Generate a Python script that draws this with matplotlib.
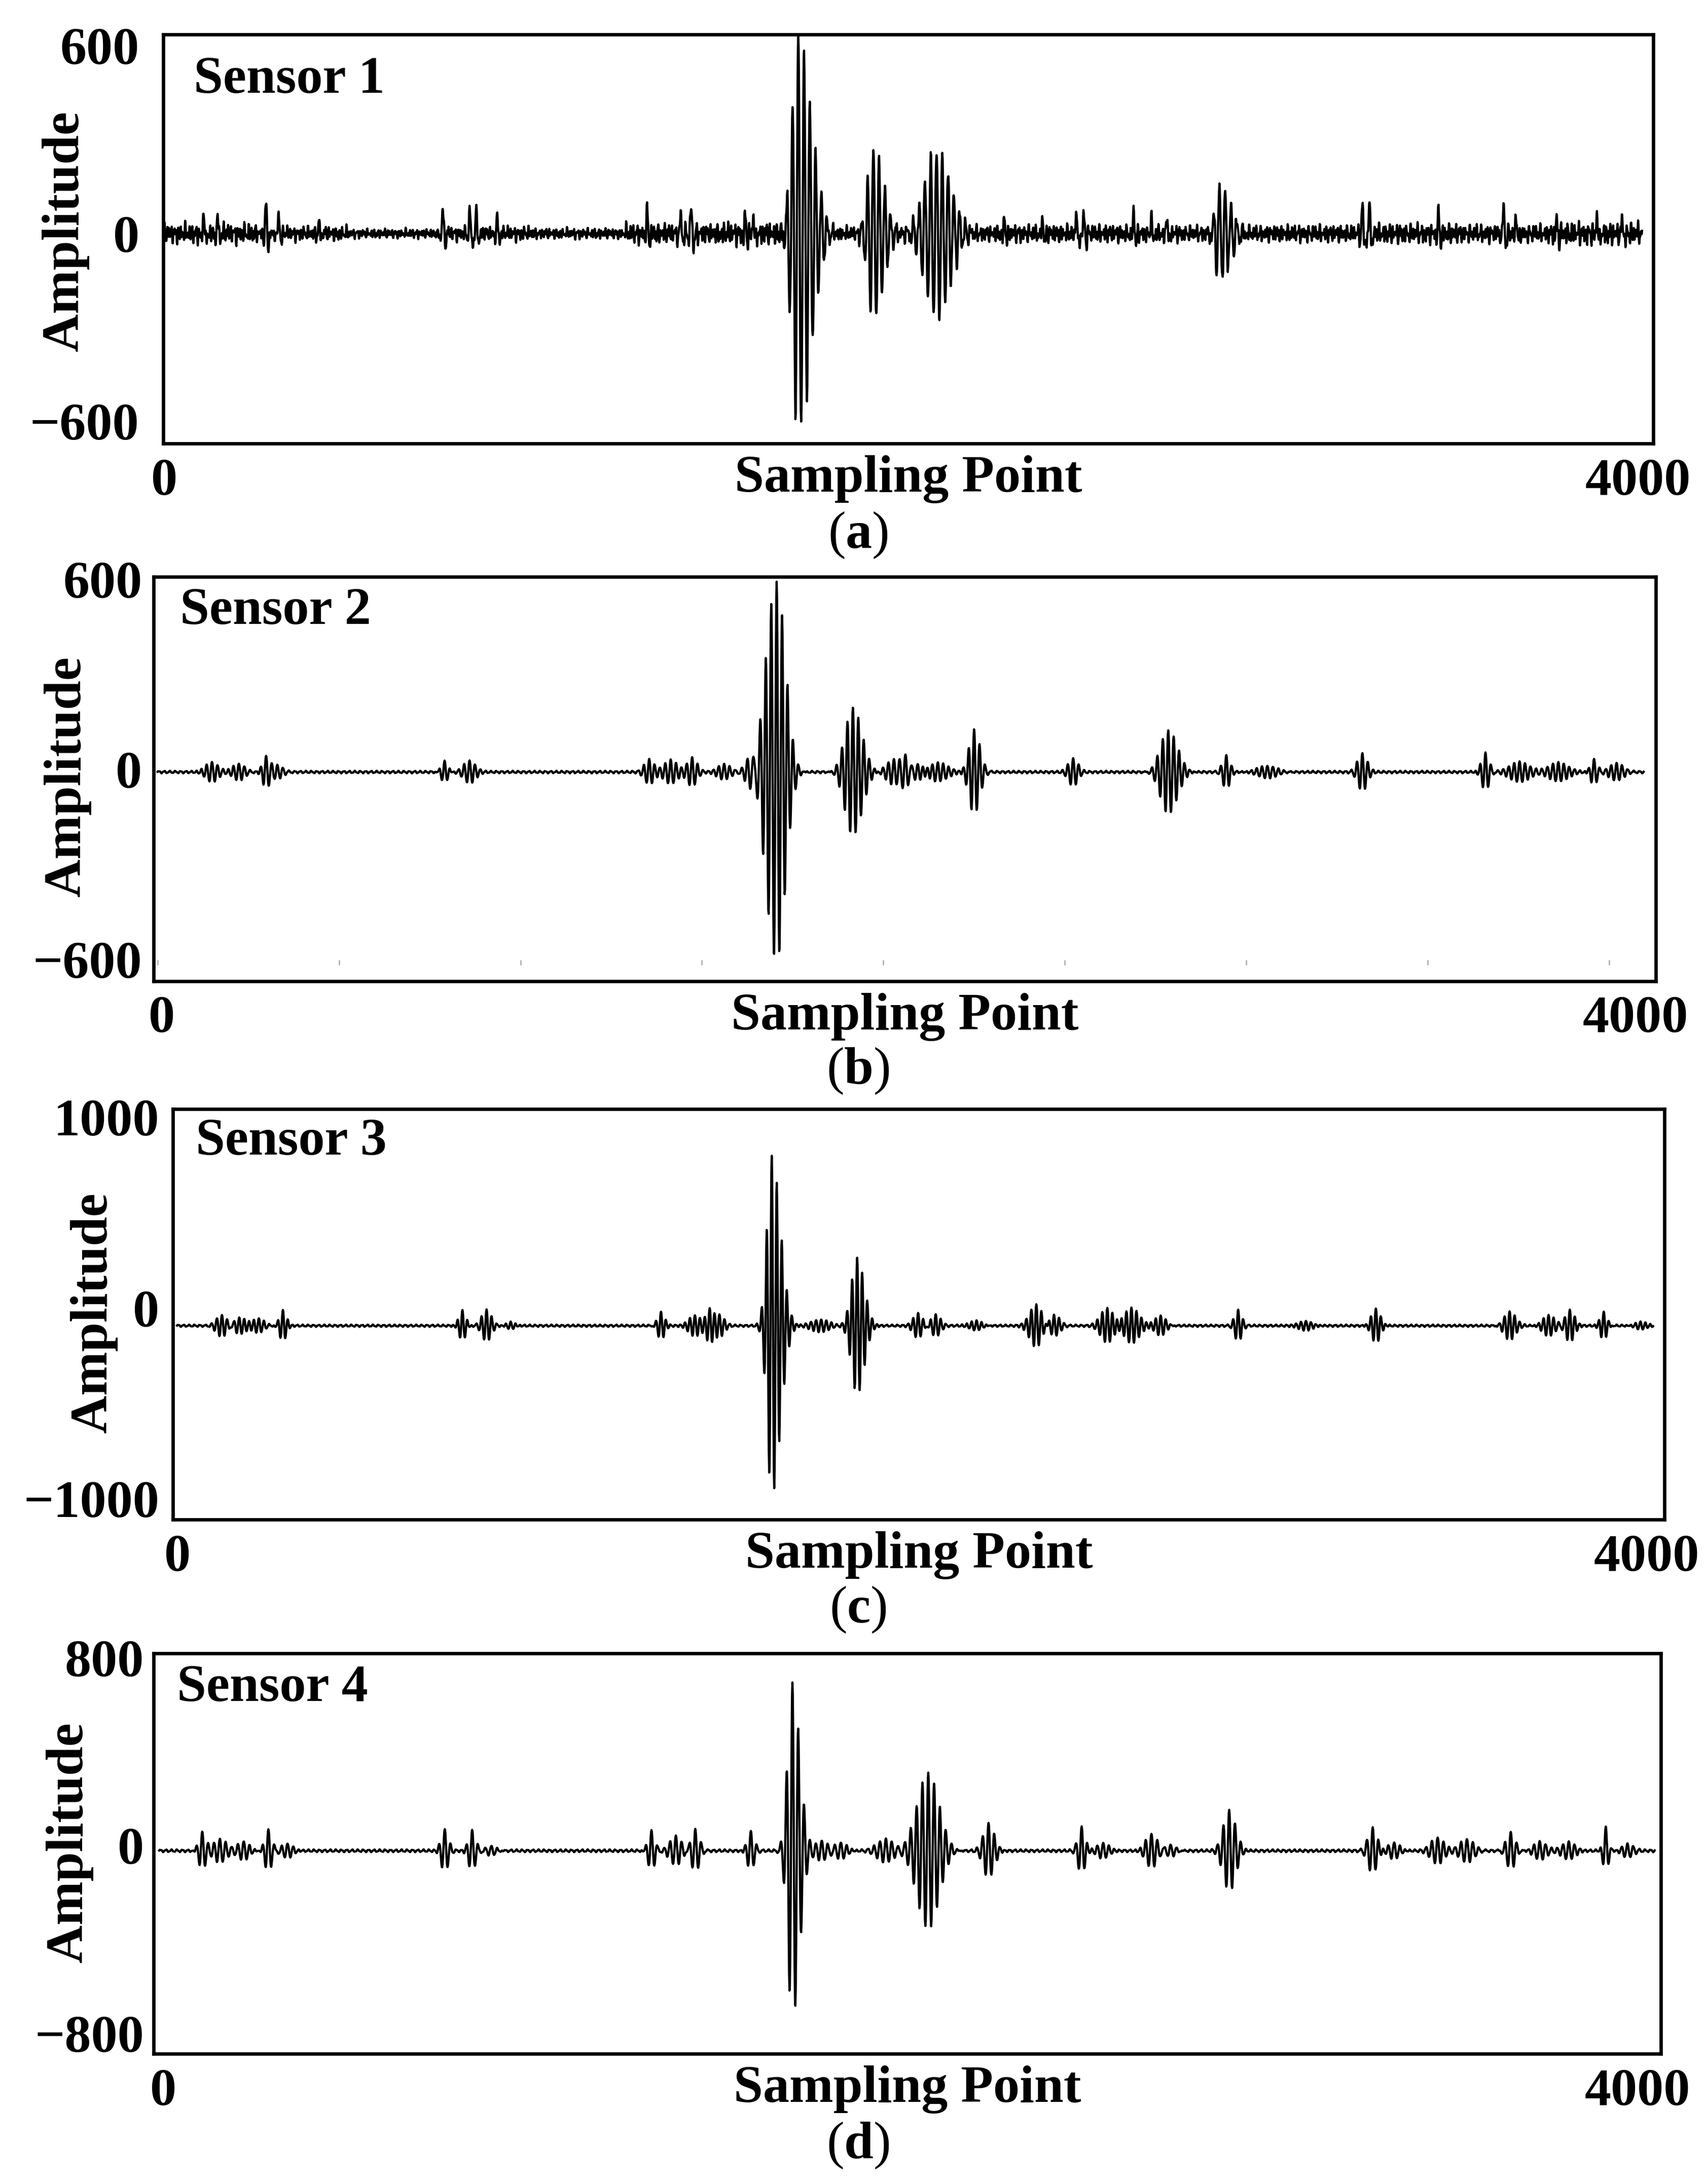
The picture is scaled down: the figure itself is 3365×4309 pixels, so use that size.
"""
Four sensor waveforms (Sensor 1-4), amplitude vs. sampling point, stacked panels (a)-(d).
"""
import numpy as np
import matplotlib
matplotlib.use("Agg")
import matplotlib.pyplot as plt
from matplotlib.transforms import offset_copy

plt.rcParams["font.family"] = ["Liberation Serif", "DejaVu Serif"]
plt.rcParams["font.weight"] = "bold"
plt.rcParams["mathtext.fontset"] = "custom"
plt.rcParams["mathtext.rm"] = "Liberation Serif"
plt.rcParams["mathtext.bf"] = "Liberation Serif:bold"
plt.rcParams["axes.unicode_minus"] = True

N_SAMPLES = 4096

# ---- wave packets: centre sample, peak amplitude, rise / decay width ----
S1_CENTER = [1757, 1965, 2140, 2924, 110, 149, 282, 317, 429, 772, 847, 865, 923, 1338, 1431,
             1460, 1610, 1632, 2328, 2433, 2527, 2548, 2686, 2735, 2778, 3320, 3340, 3531, 3711,
             3746, 3858, 3970, 4040]
S1_AMP = [630, 270, 270, 155, 65, 50, 95, 65, 35, 80, 75, 70, 50, 70, 65,
          90, 55, 50, 48, 45, 70, 65, 68, 50, 58, 92, 98, 63, 92,
          55, 45, 57, 50]
S1_RISE = [17, 16, 34, 12] + [4] * 29
S1_DECAY = [36, 28, 38, 32] + [6] * 29
S1_FLOOR = [30, 22, 14, 22, 16, 30, 34, 22, 24, 27, 27, 24, 26, 30, 27, 34]

S2_CENTER = [1706, 1640, 1916, 2250, 2785, 150, 224, 299, 330, 791, 860, 1355, 1414, 1473,
             1561, 2029, 2061, 2095, 2150, 2523, 2945, 3058, 3320, 3659, 3753, 3860, 3958, 4020]
S2_AMP = [605, 80, 205, 135, 135, 32, 28, 50, 22, 38, 34, 38, 36, 44,
          24, 38, 48, 30, 28, 42, 52, 22, 58, 62, 30, 28, 44, 28]
S2_RISE = [30, 16, 22, 14, 22, 18, 18, 10, 16, 10, 16, 13, 18, 13,
           18, 20, 10, 18, 26, 13, 10, 30, 13, 11, 26, 26, 10, 20]
S2_DECAY = [24, 16, 26, 16, 26, 18, 18, 10, 16, 10, 16, 13, 18, 13,
            18, 20, 10, 18, 26, 13, 10, 30, 13, 11, 26, 26, 10, 20]
S2_FLOOR = [4] * 16

S3_CENTER = [1650, 1887, 125, 173, 227, 294, 792, 859, 926, 1343, 1437, 1478, 1505, 1787,
             2056, 2105, 2218, 2384, 2433, 2581, 2648, 2729, 2944, 3132, 3326, 3697, 3805,
             3864, 3958, 4060]
S3_AMP = [890, 362, 55, 45, 35, 85, 85, 80, 25, 75, 60, 85, 55, 30,
          65, 55, 30, 115, 55, 90, 95, 55, 80, 30, 95, 75, 60,
          88, 78, 25]
S3_RISE = [13, 16, 16, 18, 16, 10, 10, 13, 13, 10, 18, 10, 13, 26,
           13, 13, 18, 18, 16, 18, 21, 16, 10, 21, 13, 16, 18,
           13, 10, 18]
S3_DECAY = [24, 20, 16, 18, 16, 10, 10, 13, 13, 10, 18, 10, 13, 26,
            13, 13, 18, 18, 16, 18, 21, 16, 10, 21, 13, 16, 18,
            13, 10, 18]
S3_FLOOR = [6] * 16

S4_CENTER = [1734, 2106, 1990, 2271, 2930, 118, 166, 232, 299, 352, 782, 857, 910, 1348, 1415,
             1468, 1620, 1814, 1867, 2526, 2585, 2717, 2770, 3323, 3382, 3501, 3581, 3701,
             3780, 3860, 3961, 4020]
S4_AMP = [720, 330, 55, 115, 170, 85, 50, 40, 95, 30, 90, 85, 25, 90, 60,
          95, 85, 45, 35, 100, 30, 70, 30, 100, 35, 55, 55, 85,
          40, 35, 100, 30]
S4_RISE = [13, 30, 24, 14, 16, 10, 18, 16, 10, 16, 10, 10, 16, 10, 16,
           12, 10, 18, 18, 10, 16, 16, 16, 13, 16, 18, 21, 13,
           18, 18, 7, 16]
S4_DECAY = [20, 30, 24, 16, 18, 10, 18, 16, 10, 16, 10, 10, 16, 10, 16,
            12, 10, 18, 18, 10, 16, 16, 16, 13, 16, 18, 21, 13,
            18, 18, 7, 16]
S4_FLOOR = [6] * 16

PERIODS = [16, 15, 14, 16]
OFFSETS = [0, -8, -93, -22]
Y_TICKS = [[-600, 0, 600], [-600, 0, 600], [-1000, 0, 1000], [-800, 0, 800]]
X_TICK_POS = [[0, 4083], [11, 4072], [2, 4077], [12, 4048]]
X_TICK_LABELS = ["0", "4000"]
B_DOTS_X = [0, 500, 1000, 1500, 2000, 2500, 3000, 3500, 4000]
B_DOTS_Y = -609
SENSOR_NAMES = ["Sensor 1", "Sensor 2", "Sensor 3", "Sensor 4"]
CAPTIONS = ["a", "b", "c", "d"]

# ---- layout, measured in the 1229 x 1573.8 preview of the 3365 x 4309 page ----
PW, PH = 1229.0, 1573.8
PX2PT = 3365 / PW * 72 / 300
BOXES = [(117.5, 24.8, 1191.0, 319.7), (110.6, 415.7, 1193.0, 707.0),
         (124.6, 799.0, 1199.2, 1095.0), (110.7, 1191.4, 1196.5, 1480.0)]
XLIMS = [(-3, 4126), (-11, 4129), (-11, 4127), (-15, 4112)]
YLIMS = [(-671, 636), (-668, 608), (-1109, 1044), (-887, 819)]
YPADS = [11.3, 5.4, 6.5, 4.6]
AMP_DX = [70.5, 62.1, 57.1, 60.7]
AMP_Y = [0.519, 0.506, 0.503, 0.528]
SENSOR_XY = [(22, 32.9), (19.2, 24.8), (16.4, 24.0), (16.6, 25.1)]
CAPTION_Y = [385.6, 771.8, 1160.0, 1546.0]
FS = 25


def build_signal(centers, amps, rise, decay, period, floor, offset, texture):
    t = np.arange(N_SAMPLES)
    y = np.full(N_SAMPLES, float(offset))
    y += np.repeat(np.asarray(floor, float), N_SAMPLES // len(floor)) * texture
    for c, a, r, d in zip(centers, amps, rise, decay):
        s = np.where(t < c, r, d)
        env = np.exp(-0.5 * ((t - c) / s) ** 2)
        y += a * env * np.cos(2 * np.pi * (t - c) / period)
    return y


t = np.arange(N_SAMPLES)
noise_tex = (np.sin(2 * np.pi * t / 6.3) + 0.8 * np.sin(2 * np.pi * t / 9.7 + 1.3)
             + 0.6 * np.sin(2 * np.pi * t / 4.1 + 0.4) + 0.5 * np.sin(2 * np.pi * t / 14.9 + 2.1))
noise_tex /= np.percentile(np.abs(noise_tex), 95)
ripple_tex = np.sin(2 * np.pi * t / 15.0) + 0.35 * np.sin(2 * np.pi * t / 6.7 + 0.9)
ripple_tex /= np.abs(ripple_tex).max()

signals = [
    build_signal(S1_CENTER, S1_AMP, S1_RISE, S1_DECAY, PERIODS[0], S1_FLOOR, OFFSETS[0], noise_tex),
    build_signal(S2_CENTER, S2_AMP, S2_RISE, S2_DECAY, PERIODS[1], S2_FLOOR, OFFSETS[1], ripple_tex),
    build_signal(S3_CENTER, S3_AMP, S3_RISE, S3_DECAY, PERIODS[2], S3_FLOOR, OFFSETS[2], ripple_tex),
    build_signal(S4_CENTER, S4_AMP, S4_RISE, S4_DECAY, PERIODS[3], S4_FLOOR, OFFSETS[3], ripple_tex),
]

fig = plt.figure(figsize=(3365 / 300, 4309 / 300), dpi=300)

for k in range(4):
    l, top, r, b = BOXES[k]
    ax = fig.add_axes([l / PW, 1 - b / PH, (r - l) / PW, (b - top) / PH])
    ax.plot(t, signals[k], color="black", lw=1.05)
    if k == 1:
        ax.plot(B_DOTS_X, [B_DOTS_Y] * len(B_DOTS_X), ls="none", marker="|",
                ms=2.5, mew=0.6, color="#aaaaaa")

    ax.set_xlim(*XLIMS[k])
    ax.set_ylim(*YLIMS[k])
    ax.set_xticks(X_TICK_POS[k])
    ax.set_xticklabels(X_TICK_LABELS)
    ax.set_yticks(Y_TICKS[k])
    ax.tick_params(axis="both", length=0, labelsize=FS)
    ax.tick_params(axis="x", pad=6.9)
    ax.tick_params(axis="y", pad=YPADS[k])
    for lab in ax.get_xticklabels() + ax.get_yticklabels():
        lab.set_fontweight("bold")
    for sp in ax.spines.values():
        sp.set_linewidth(1.6)

    # panel texts
    sx, sy = SENSOR_XY[k]
    ax.text(0, 1, SENSOR_NAMES[k], fontsize=FS, fontweight="bold", ha="left", va="center",
            transform=offset_copy(ax.transAxes, fig=fig, x=sx * PX2PT, y=-sy * PX2PT, units="points"))
    ax.text(0, AMP_Y[k], "Amplitude", fontsize=FS, fontweight="bold", rotation=90,
            ha="center", va="center",
            transform=offset_copy(ax.transAxes, fig=fig, x=-AMP_DX[k] * PX2PT, units="points"))
    ax.text(0.5, 0, "Sampling Point", fontsize=FS, fontweight="bold", ha="center", va="top",
            transform=offset_copy(ax.transAxes, fig=fig, y=-5.5, units="points"))
    fig.text(618 / PW, 1 - CAPTION_Y[k] / PH, r"($\mathbf{%s}$)" % CAPTIONS[k],
             fontsize=FS, fontweight="normal", ha="center", va="center")

fig.savefig("out.png", dpi=300)
